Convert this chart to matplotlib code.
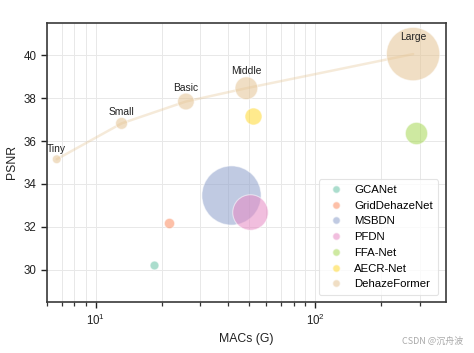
import matplotlib
matplotlib.use("Agg")
import matplotlib.pyplot as plt
from matplotlib.lines import Line2D
from matplotlib.ticker import LogLocator, NullFormatter

plt.rcParams['font.family'] = ['Liberation Sans', 'DejaVu Sans']

methods = ["GCANet", "GridDehazeNet", "MSBDN", "PFDN", "FFA-Net", "AECR-Net"]
method_macs = [18.41, 21.49, 41.54, 50.46, 287.8, 52.20]
method_psnr = [30.23, 32.16, 33.5, 32.68, 36.39, 37.17]
method_params = [0.702, 0.956, 31.35, 11.27, 4.456, 2.611]

df_names = ["Tiny", "Small", "Basic", "Middle", "Large"]
df_macs = [6.65, 13.13, 25.79, 48.64, 279.7]
df_psnr = [35.15, 36.82, 37.84, 38.46, 40.05]
df_params = [0.686, 1.283, 2.514, 4.634, 25.44]

colors = ["#66c2a5", "#fc8d62", "#8da0cb", "#e78ac3", "#a6d854", "#ffd92f", "#e5c494"]
size_scale = 58
alpha = 0.55

fig = plt.figure(figsize=(4.74, 3.53), dpi=100)
ax = fig.add_axes([0.099, 0.1445, 0.842, 0.7905])
ax.set_xscale('log')

ax.plot(df_macs, df_psnr, color=colors[6], alpha=0.35, lw=1.8, zorder=2, solid_capstyle='round')

for name, x, y, p, c in zip(methods, method_macs, method_psnr, method_params, colors[:6]):
    ax.scatter([x], [y], s=[p * size_scale], color=c, alpha=alpha, edgecolors='white', linewidths=0.8, zorder=3)

ax.scatter(df_macs, df_psnr, s=[p * size_scale for p in df_params], color=colors[6], alpha=alpha,
           edgecolors='white', linewidths=0.8, zorder=3)

offsets = [0.47, 0.55, 0.65, 0.8, 0.8]
for name, x, y, o in zip(df_names, df_macs, df_psnr, offsets):
    ax.text(x, y + o, name, ha='center', va='center', fontsize=7.4, color='#222222', zorder=5)

ax.set_xlim(6.0, 395)
ax.set_ylim(28.5, 41.5)
ax.set_yticks([30, 32, 34, 36, 38, 40])
ax.xaxis.set_major_locator(LogLocator(base=10))
ax.xaxis.set_minor_locator(LogLocator(base=10, subs=range(2, 10)))
ax.xaxis.set_minor_formatter(NullFormatter())

ax.grid(True, which='major', color='#e8e8e8', lw=0.7, zorder=0)
ax.grid(True, which='minor', axis='x', color='#e8e8e8', lw=0.7, zorder=0)
ax.set_axisbelow(True)

for s in ax.spines.values():
    s.set_linewidth(1.2)
    s.set_color('#3a3a3a')
ax.tick_params(axis='both', which='major', labelsize=8.3, length=4, width=1, colors='#222222')
ax.tick_params(axis='x', which='minor', length=3, width=0.9, colors='#333333')

ax.set_xlabel("MACs (G)", fontsize=8.8, color='#222222')
ax.set_ylabel("PSNR", fontsize=8.8, color='#222222')

handles = [Line2D([0], [0], marker='o', ls='', markersize=5.5, markerfacecolor=c, markeredgecolor='white',
                  alpha=alpha, label=n) for n, c in zip(methods + ["DehazeFormer"], colors)]
leg = ax.legend(handles=handles, loc='lower right', fontsize=8.2, frameon=True, labelspacing=0.5,
                handletextpad=0.6, borderpad=0.5, bbox_to_anchor=(0.995, 0.005))
leg.get_frame().set_edgecolor('#dddddd')
leg.get_frame().set_linewidth(0.8)

fig.text(0.977, 0.02, "CSDN @沉舟波", ha='right', va='bottom', fontsize=6.5, color='#aaaaaa',
         family=['Noto Sans CJK SC', 'DejaVu Sans'])

fig.savefig("out.png", dpi=100)
